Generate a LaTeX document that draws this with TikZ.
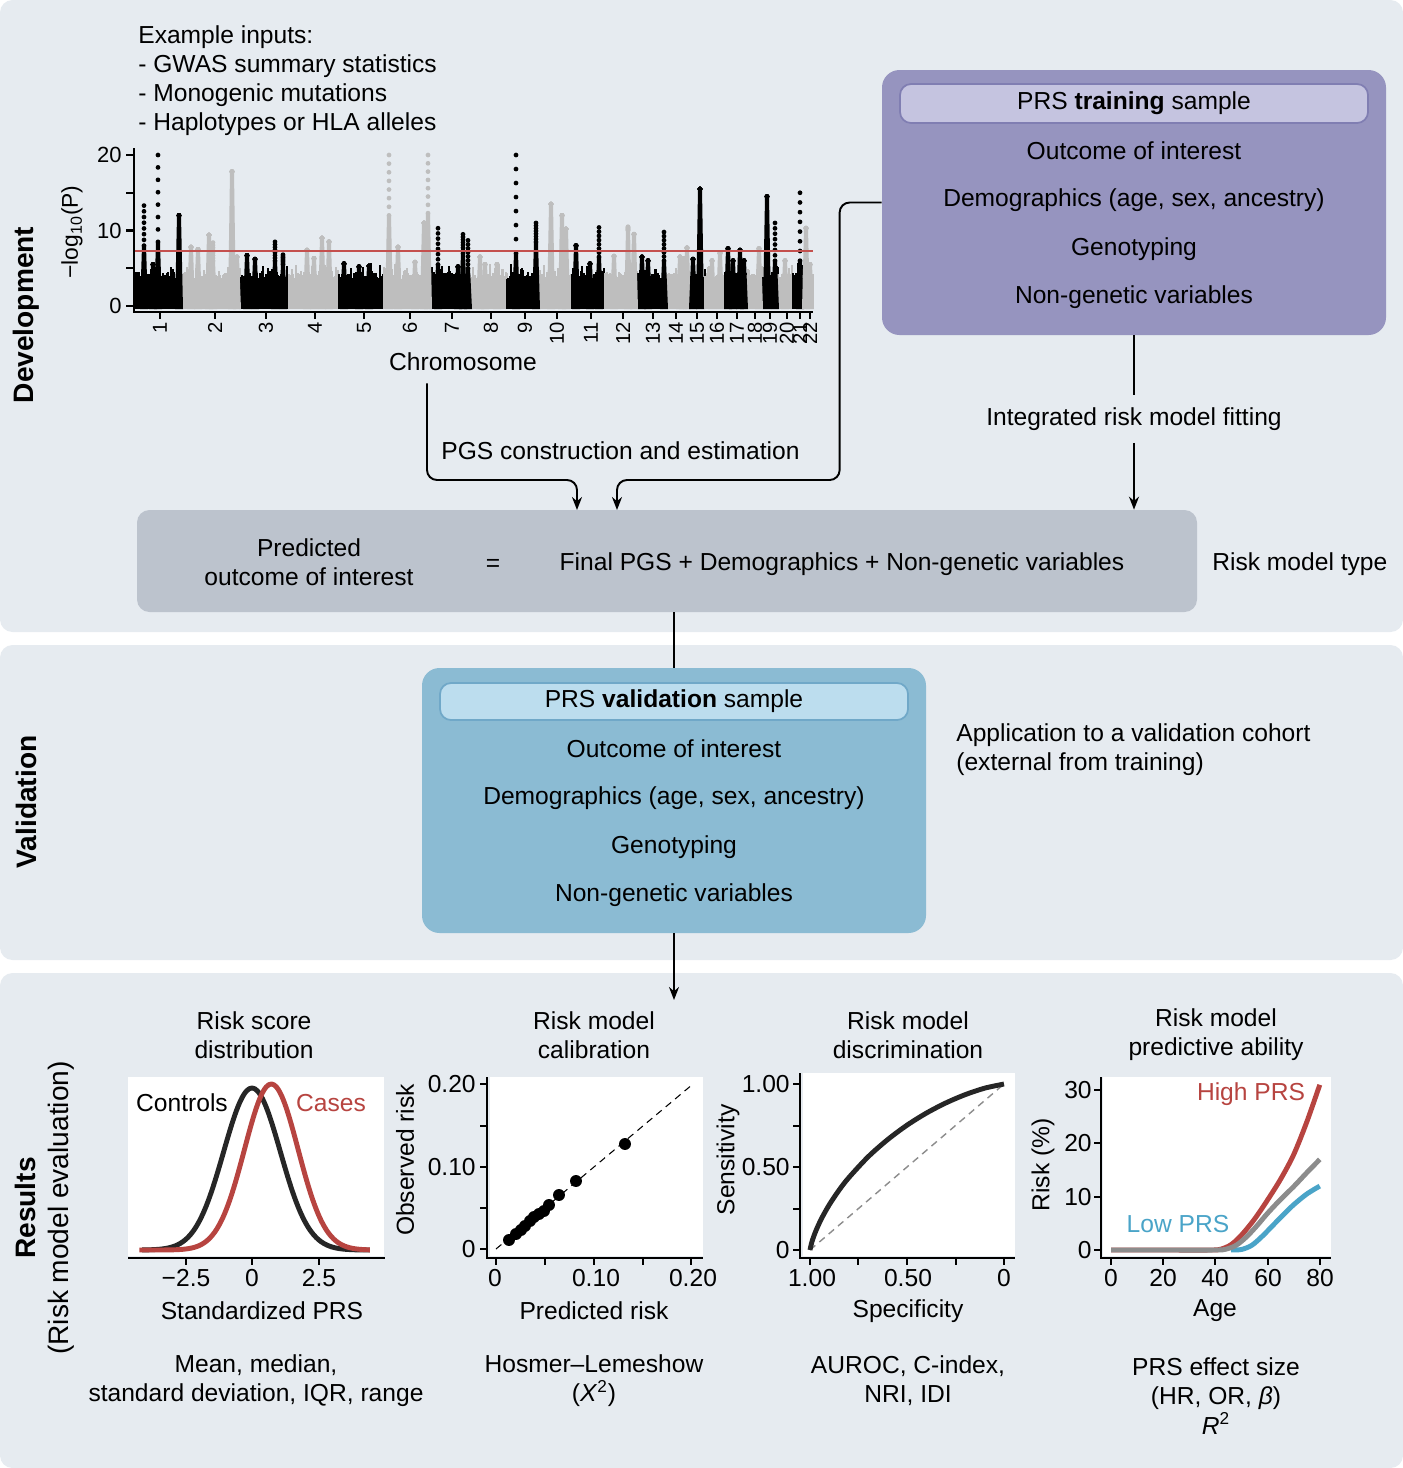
\documentclass[tikz,border=0pt]{standalone}
\usepackage{fontspec}
\setmainfont{Liberation Sans}
\usetikzlibrary{calc, arrows.meta}

\definecolor{panelbg}{RGB}{230,235,240}
\definecolor{trainfill}{RGB}{150,148,191}
\definecolor{trainhead}{RGB}{197,196,224}
\definecolor{trainline}{RGB}{128,126,178}
\definecolor{predfill}{RGB}{188,195,205}
\definecolor{validfill}{RGB}{139,187,211}
\definecolor{validhead}{RGB}{188,221,238}
\definecolor{validline}{RGB}{112,168,200}
\definecolor{mblack}{RGB}{0,0,0}
\definecolor{mgray}{RGB}{190,190,190}
\definecolor{sigred}{RGB}{196,80,78}
\definecolor{casered}{RGB}{183,68,64}
\definecolor{lowblue}{RGB}{74,164,200}
\definecolor{midgray}{RGB}{140,140,140}

\tikzset{
	panel/.style={fill=panelbg, rounded corners=0.25cm},
	txt/.style={font=\fontsize{14}{16.6}\selectfont, inner sep=0pt, align=center},
	side/.style={font=\fontsize{16}{19}\selectfont, rotate=90, inner sep=0pt, align=center},
	conn/.style={line width=1.1pt, rounded corners=0.2cm, >={Stealth[length=2.6mm, width=2mm]}},
	trainbox/.style={fill=trainfill, rounded corners=0.35cm,
		minimum width={504*0.02cm}, minimum height={265*0.02cm}},
	trainhd/.style={txt, fill=trainhead, draw=trainline, line width=1pt, rounded corners=0.22cm,
		minimum width={468*0.02cm}, minimum height={39*0.02cm}},
	predbox/.style={fill=predfill, rounded corners=0.25cm,
		minimum width={1060*0.02cm}, minimum height={102*0.02cm}},
	validbox/.style={fill=validfill, rounded corners=0.35cm,
		minimum width={504*0.02cm}, minimum height={265*0.02cm}},
	validhd/.style={txt, fill=validhead, draw=validline, line width=1pt, rounded corners=0.22cm,
		minimum width={468*0.02cm}, minimum height={37*0.02cm}},
	axisline/.style={line width=1.6pt},
	tick/.style={line width=1.2pt},
	chrlab/.style={font=\fontsize{11.5}{12}\selectfont, inner sep=0pt, rotate=90, anchor=east},
	mtick/.style={font=\fontsize{12.5}{13}\selectfont, inner sep=0pt, anchor=east},
	curve/.style={line width=2.8pt, line join=round},
}

\begin{document}
\begin{tikzpicture}[x=0.02cm, y=-0.02cm]
	\useasboundingbox (0,0) rectangle (1403,1468);

	% panels
	\fill[panel] (0,0) rectangle (1403,632);
	\fill[panel] (0,645) rectangle (1403,960);
	\fill[panel] (0,973) rectangle (1403,1468);

	\node[side] (devlab) at (26,315) {\textbf{Development}};
	\node[side] (vallab) at (26,802) {\textbf{Validation}};
	\node[side] (reslab) at (45,1208) {\textbf{Results}\\(Risk model evaluation)};

	% ---------- development ----------
	\node[txt, align=left, anchor=north west] (inputs) at (138,25)
		{Example inputs:\\- GWAS summary statistics\\- Monogenic mutations\\- Haplotypes or HLA alleles};

	% manhattan plot
	\def\mbase{306}
	\def\lunit{7.55}
	\pgfmathsetseed{42}
	\foreach \a/\b/\c in {134/183/mblack, 183/240/mgray, 240/289/mblack, 289/339/mgray,
		339/384/mblack, 384/430/mgray, 430/470/mblack, 470/507/mgray, 507/539/mblack,
		539/572/mgray, 572/605/mblack, 605/638/mgray, 638/663/mblack, 663/686/mgray,
		686/705/mblack, 705/725/mgray, 725/746/mblack, 746/763/mgray, 763/778/mblack,
		778/793/mgray, 793/802/mblack, 802/813/mgray}{
		\foreach \x in {\a,...,\b}
			\draw[\c, line width=0.8pt] (\x,309) -- (\x,{\mbase-\lunit*(3.5+0.9*rnd+1.6*pow(rnd,6))});
	}
	\foreach \x/\s/\t/\c in {144/8/13.3/mblack, 153/5.5/5.5/mblack, 158/8.5/20/mblack, 179/12/12/mblack,
		191/7.8/7.8/mgray, 198/7.5/7.5/mgray, 209/9.4/9.4/mgray, 213/6/8.4/mgray, 232/17.8/17.8/mgray,
		237/6.5/6.5/mgray, 247/6.7/6.7/mblack, 255/6.2/6.2/mblack, 275/6/8.5/mblack, 283/5.5/6.8/mblack,
		307/7.4/7.4/mgray, 314/6.3/6.3/mgray, 322/9/9/mgray, 329/8.5/8.5/mgray,
		344/5.6/5.6/mblack, 359/5.2/5.2/mblack, 369/5.3/5.3/mblack,
		389/12/20/mgray, 398/7.8/7.8/mgray, 415/5.8/5.8/mgray, 424/11/11/mgray, 428/12.3/20/mgray,
		438/5.5/10.3/mblack, 458/5.2/5.2/mblack, 463/7/9.5/mblack, 468/5/8.7/mblack,
		480/6.5/6.5/mgray, 485/5.5/5.5/mgray, 497/5.5/5.5/mgray,
		516/7/20/mblack, 536/8.5/11/mblack,
		551/13.5/13.5/mgray, 562/12/12/mgray, 566/10.2/10.2/mgray,
		576/8/8/mblack, 590/5.6/5.6/mblack, 599/6.5/10.4/mblack,
		614/6.6/6.6/mgray, 628/10/10.5/mgray, 634/9.5/9.5/mgray,
		642/6.5/6.5/mblack, 648/6/6/mblack, 664/6/9.8/mblack,
		680/6.5/6.5/mgray, 683/6.3/6.3/mgray, 687/7.7/7.7/mgray,
		693/6.2/6.2/mblack, 700/15.5/15.5/mblack, 712/6/6/mgray, 720/7/7/mgray,
		728/7.6/7.6/mblack, 733/6/6/mblack, 740/7.4/7.4/mblack, 744/6/6/mblack,
		759/7.6/7.6/mgray, 767/14.5/14.5/mblack, 775/6/11/mblack, 785/6/6/mgray,
		800/6/15/mblack, 806/10.3/10.3/mgray, 810/5.5/5.5/mgray}{
		\fill[\c] (\x-4,309) -- (\x-2,{\mbase-\lunit*\s}) -- (\x+2,{\mbase-\lunit*\s}) -- (\x+4,309) -- cycle;
		\foreach \k in {0,...,7}
			\fill[\c] (\x,{\mbase-\lunit*(\s+(\t-\s)*\k/7)}) circle (1.35pt);
	}
	\draw[sigred, line width=1.2pt] (134,251) -- (813,251);
	\draw[axisline] (134,148) -- (134,312) -- (813,312);
	\foreach \v in {0,5,...,20}
		\draw[tick] (126,{\mbase-\lunit*\v}) -- (134,{\mbase-\lunit*\v});
	\foreach \v in {0,10,20}
		\node[mtick] (ylab\v) at (122,{\mbase-\lunit*\v}) {\v};
	\foreach \x/\n in {160/1, 215/2, 266/3, 315/4, 364/5, 410/6, 452/7, 491/8, 525/9, 557/10,
		591/11, 623/12, 653/13, 676/14, 697/15, 717/16, 737/17, 755/18, 770/19, 787/20, 800/21, 810/22}{
		\draw[tick] (\x,312) -- (\x,319);
		\node[chrlab] (chr\n) at (\x,322) {\n};
	}
	\node[font=\fontsize{13}{14}\selectfont, rotate=90, inner sep=0pt] (mylab) at (72,232)
		{−log\textsubscript{10}(P)};
	\node[txt] (chrom) at (463,362) {Chromosome};

	% training sample
	\node[trainbox] (train) at (1134,202.5) {};
	\node[trainhd] (trainhead) at (1134,103.5) {PRS \textbf{training} sample};
	\node[txt] (tr1) at (1134,151) {Outcome of interest};
	\node[txt] (tr2) at (1134,200) {Demographics (age, sex, ancestry)};
	\node[txt] (tr3) at (1134,249) {Genotyping};
	\node[txt] (tr4) at (1134,297) {Non-genetic variables};

	% risk model
	\node[predbox] (pred) at (667,561) {};
	\node[txt] (predlhs) at (309,562) {Predicted\\outcome of interest};
	\node[txt] (predeq) at (493,565) {=};
	\node[txt] (predrhs) at (842,564) {Final PGS + Demographics + Non-genetic variables};
	\node[txt, anchor=west] (rmtype) at (1212,564) {Risk model type};

	\node[txt, anchor=west] (pgslab) at (441,451) {PGS construction and estimation};
	\node[txt, inner ysep=0.24cm] (fitlab) at (1134,419) {Integrated risk model fitting};

	\coordinate (pgsinA) at (577,510);
	\coordinate (pgsinB) at (617,510);
	\draw[conn, ->] (chrom.south) ++(-36,12) |- ($(pgsinA)+(0,-30)$) -- (pgsinA);
	\draw[conn, ->] (train.west) -- ++(-42,0) |- ($(pgsinB)+(0,-30)$) -- (pgsinB);
	\draw[conn] (train.south) -- (train.south |- fitlab.north);
	\draw[conn, ->] (fitlab.south -| train.south) -- (pred.north -| train.south);

	% ---------- validation ----------
	\node[validbox] (valid) at (674,800.5) {};
	\node[validhd] (validhead) at (674,701.5) {PRS \textbf{validation} sample};
	\node[txt] (va1) at (674,749) {Outcome of interest};
	\node[txt] (va2) at (674,798) {Demographics (age, sex, ancestry)};
	\node[txt] (va3) at (674,847) {Genotyping};
	\node[txt] (va4) at (674,895) {Non-genetic variables};
	\node[txt, align=left, anchor=west] (applab) at (956,750)
		{Application to a validation cohort\\(external from training)};

	\draw[conn] (valid.north |- pred.south) -- (valid.north);
	\coordinate (resin) at (674,1000);
	\draw[conn, ->] (valid.south) -- (resin);

	% ---------- results ----------
	% score distribution
	\node[txt] (ttlA) at (254,1035) {Risk score\\distribution};
	\fill[white] (128,1077) rectangle (384,1256);
	\draw[curve, black!85] plot[domain=-4.1:4.4, samples=90, smooth]
		({252+26.8*\x},{1250-162*exp(-0.5*(\x)*(\x)/1.12)});
	\draw[curve, casered] plot[domain=-4.2:4.4, samples=90, smooth]
		({252+26.8*\x},{1250-166*exp(-0.5*(\x-0.72)*(\x-0.72)/1.0)});
	\draw[axisline] (128,1258) -- (385,1258);
	\foreach \x/\l in {186/−2.5, 252/0, 319/2.5}{
		\draw[tick] (\x,1258) -- (\x,1265);
		\node[txt] (xA\x) at (\x,1278) {\l};
	}
	\node[txt] (ctrl) at (182,1103) {Controls};
	\node[txt, text=casered] (cases) at (331,1103) {Cases};
	\node[txt] (xlabA) at (262,1311) {Standardized PRS};
	\node[txt] (capA) at (256,1381) {Mean, median,\\standard deviation, IQR, range};

	% calibration
	\node[txt] (ttlB) at (594,1035) {Risk model\\calibration};
	\fill[white] (490,1077) rectangle (703,1256);
	\draw[dashed, line width=0.6pt, dash pattern=on 4pt off 3pt] (496,1249) -- (693,1084);
	\foreach \x/\y in {509/1240, 516/1234, 521/1230, 525/1226, 530/1221, 534/1217, 539/1214,
		544/1211, 549/1205, 559/1195, 576/1181, 625/1144}
		\fill (\x,\y) circle (3.4pt);
	\draw[axisline] (487,1077) -- (487,1258) -- (703,1258);
	\foreach \y in {1084,1126,1167,1208,1249}
		\draw[tick] (480,\y) -- (487,\y);
	\foreach \x in {496,545,594,643,691}
		\draw[tick] (\x,1258) -- (\x,1265);
	\foreach \y/\l in {1084/0.20, 1167/0.10, 1249/0}
		\node[txt, anchor=east] (yB\y) at (476,\y) {\l};
	\foreach \x/\l in {495/0, 596/0.10, 693/0.20}
		\node[txt] (xB\x) at (\x,1278) {\l};
	\node[txt, rotate=90] (ylabB) at (405,1160) {Observed risk};
	\node[txt] (xlabB) at (594,1311) {Predicted risk};
	\node[txt] (capB) at (594,1381) {Hosmer–Lemeshow\\(\textit{X}\textsuperscript{2})};

	% discrimination
	\node[txt] (ttlC) at (908,1035) {Risk model\\discrimination};
	\fill[white] (803,1073) rectangle (1015,1256);
	\draw[dashed, midgray, line width=0.8pt, dash pattern=on 4pt off 3pt] (810,1250) -- (1004,1084);
	\begin{scope}[shift={(810,1250)}, x=3.88cm, y=3.32cm]
		\draw[curve, black!85] plot[smooth] coordinates {(0,0) (0.01,0.05) (0.03,0.115) (0.06,0.191)
			(0.1,0.274) (0.15,0.361) (0.2,0.436) (0.3,0.562) (0.4,0.665) (0.5,0.752) (0.6,0.825)
			(0.7,0.886) (0.8,0.936) (0.9,0.975) (1,1)};
	\end{scope}
	\draw[axisline] (800,1073) -- (800,1258) -- (1015,1258);
	\foreach \y in {1084,1126,1167,1209,1250}
		\draw[tick] (793,\y) -- (800,\y);
	\foreach \x in {810,858,907,956,1004}
		\draw[tick] (\x,1258) -- (\x,1265);
	\foreach \y/\l in {1084/1.00, 1167/0.50, 1250/0}
		\node[txt, anchor=east] (yC\y) at (790,\y) {\l};
	\foreach \x/\l in {812/1.00, 908/0.50, 1004/0}
		\node[txt] (xC\x) at (\x,1278) {\l};
	\node[txt, rotate=90] (ylabC) at (728,1160) {Sensitivity};
	\node[txt] (xlabC) at (908,1311) {Specificity};
	\node[txt] (capC) at (908,1381) {AUROC, C-index,\\NRI, IDI};

	% predictive ability
	\node[txt] (ttlD) at (1216,1035) {Risk model\\predictive ability};
	\fill[white] (1103,1077) rectangle (1331,1256);
	\begin{scope}[shift={(1111,1250)}, x=0.0522cm, y=0.1066cm]
		\draw[curve, casered] plot[smooth] coordinates {(0,0) (20,0) (38,0) (42,0.15) (46,1)
			(50,2.8) (55,5.8) (60,9.4) (65,13.3) (70,17.9) (75,24) (80,31)};
		\draw[curve, lowblue] plot[smooth] coordinates {(46,0) (50,0.1) (54,0.9) (58,2.6)
			(62,4.6) (66,6.6) (70,8.5) (75,10.5) (80,12)};
		\draw[curve, midgray] plot[smooth] coordinates {(0,0) (20,0) (40,0) (44,0.15) (48,0.9)
			(52,2.5) (56,4.6) (60,6.9) (65,9.5) (70,11.9) (75,14.5) (80,17)};
	\end{scope}
	\draw[axisline] (1101,1077) -- (1101,1258) -- (1331,1258);
	\foreach \y/\l in {1090/30, 1143/20, 1197/10, 1250/0}{
		\draw[tick] (1094,\y) -- (1101,\y);
		\node[txt, anchor=east] (yD\l) at (1092,\y) {\l};
	}
	\foreach \x/\l in {1111/0, 1163/20, 1215/40, 1268/60, 1320/80}{
		\draw[tick] (\x,1258) -- (\x,1265);
		\node[txt] (xD\l) at (\x,1278) {\l};
	}
	\node[txt, text=casered] (highlab) at (1251,1094) {High PRS};
	\node[txt, text=lowblue] (lowlab) at (1178,1224) {Low PRS};
	\node[txt, rotate=90] (ylabD) at (1043,1165) {Risk (\%)};
	\node[txt] (xlabD) at (1215,1311) {Age};
	\node[txt] (capD) at (1216,1396) {PRS effect size\\(HR, OR, \textit{β})\\\textit{R}\textsuperscript{2}};
\end{tikzpicture}
\end{document}
